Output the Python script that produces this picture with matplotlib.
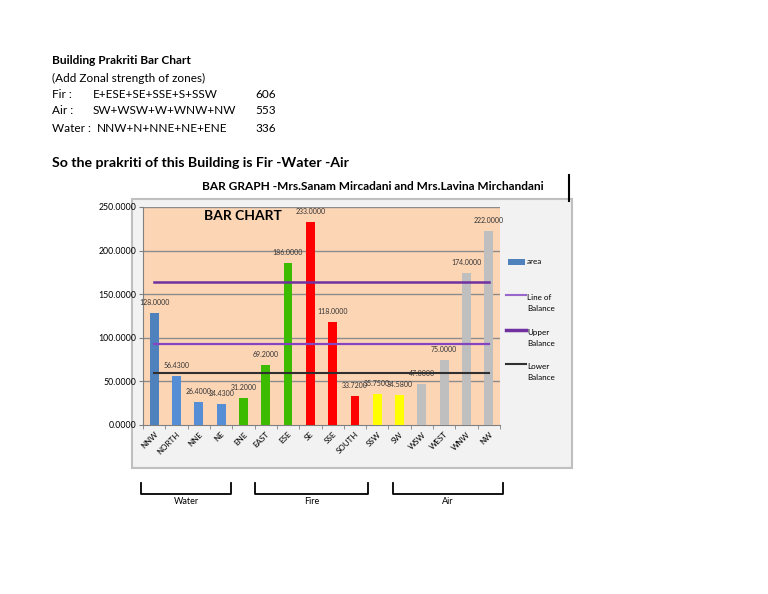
import matplotlib
matplotlib.use("Agg")
import matplotlib.pyplot as plt
from matplotlib.patches import Rectangle
from matplotlib.lines import Line2D

plt.rcParams['font.family'] = ['Lato', 'DejaVu Sans']

categories = ["NNW", "NORTH", "NNE", "NE", "ENE", "EAST", "ESE", "SE", "SSE",
              "SOUTH", "SSW", "SW", "WSW", "WEST", "WNW", "NW"]
area = [128.0, 56.43, 26.40, 24.43, 31.20, 69.20, 186.0, 233.0, 118.0,
        33.72, 35.75, 34.58, 47.0, 75.0, 174.0, 222.0]
bar_colors = ["#4F81BD", "#558ED5", "#558ED5", "#558ED5", "#3DBB00", "#3DBB00",
              "#3DBB00", "#FF0000", "#FF0000", "#FF0000", "#FFFF00", "#FFFF00",
              "#BFBFBF", "#BFBFBF", "#BFBFBF", "#BFBFBF"]
line_of_balance = 93.4
upper_balance = 164.0
lower_balance = 59.6
yticks = [0, 50, 100, 150, 200, 250]

W, H = 768, 594
fig = plt.figure(figsize=(W / 100, H / 100), dpi=100)
fig.patch.set_facecolor("white")

def fx(x):
    return x / W

def fy(y):
    return 1 - y / H

# header texts
fig.text(fx(52), fy(61), "Building Prakriti Bar Chart", fontsize=8.6, fontweight="bold", va="center")
fig.text(fx(52), fy(78), "(Add Zonal strength of zones)", fontsize=8.5, va="center")
rows = [("Fir :", "E+ESE+SE+SSE+S+SSW", "606", 94, 93),
        ("Air :", "SW+WSW+W+WNW+NW", "553", 111, 93),
        ("Water :", "NNW+N+NNE+NE+ENE", "336", 128, 97)]
for lab, expr, val, y, xe in rows:
    fig.text(fx(52), fy(y), lab, fontsize=8.5, va="center")
    fig.text(fx(xe), fy(y), expr, fontsize=8.5, va="center")
    fig.text(fx(255), fy(y), val, fontsize=8.5, va="center")
fig.text(fx(52), fy(163), "So the prakriti of this Building is Fir -Water -Air",
         fontsize=10.2, fontweight="bold", va="center")
fig.text(fx(202), fy(186), "BAR GRAPH -Mrs.Sanam Mircadani and Mrs.Lavina Mirchandani",
         fontsize=8.6, fontweight="bold", va="center")
fig.add_artist(Line2D([fx(569), fx(569)], [fy(175), fy(201)], color="black", lw=1.5))

# chart container
fig.add_artist(Rectangle((fx(132), fy(468)), fx(572) - fx(132), fy(199) - fy(468),
                         facecolor="#F2F2F2", edgecolor="#BFBFBF", lw=1.5, zorder=0))

ax = fig.add_axes([fx(143), fy(425), fx(500) - fx(143), fy(207) - fy(425)])
ax.set_facecolor("#FCD5B5")
x = list(range(len(categories)))
ax.bar(x, area, width=0.4, color=bar_colors, zorder=3)
ax.set_xlim(-0.5, len(categories) - 0.5)
ax.set_ylim(0, 250)
ax.set_yticks(yticks)
ax.set_yticklabels([f"{v:.4f}" for v in yticks], fontsize=6.3)
for v in yticks[1:]:
    ax.axhline(v, color="#8C8C8C", lw=1, zorder=1)
ax.set_xticks(x)
ax.set_xticklabels(categories, rotation=45, ha="right", rotation_mode="anchor", fontsize=5.8)
ax.tick_params(axis="x", length=0, pad=4)
ax.set_xticks([i + 0.5 for i in range(-1, len(categories))], minor=True)
ax.tick_params(axis="x", which="minor", length=3, color="#808080")
ax.tick_params(axis="y", length=3, color="#808080", pad=2)
for s in ["top", "right"]:
    ax.spines[s].set_visible(False)
ax.spines["left"].set_color("#808080")
ax.spines["bottom"].set_color("#808080")

for xi, v in zip(x, area):
    ax.annotate(f"{v:.4f}", (xi, v), xytext=(0, 5), textcoords="offset points",
                ha="center", va="bottom", fontsize=5, color="#333333", zorder=5)

ax.plot([0, 15], [upper_balance] * 2, color="#7030A0", lw=1.8, zorder=4)
ax.plot([0, 15], [line_of_balance] * 2, color="#8545C0", lw=1.6, zorder=4)
ax.plot([0, 15], [lower_balance] * 2, color="#303030", lw=1.5, zorder=4)

ax.text(0.17, 0.985, "BAR CHART", transform=ax.transAxes, fontsize=10, fontweight="bold",
        va="top", ha="left", zorder=6)

# legend (manual)
fig.add_artist(Rectangle((fx(508), fy(265)), fx(525) - fx(508), fy(259) - fy(265),
                         facecolor="#4F81BD", edgecolor="none"))
fig.text(fx(527), fy(262), "area", fontsize=5.8, va="center")
leg = [("#9966CC", 1.5, "Line of\nBalance", 295),
       ("#7030A0", 2.5, "Upper\nBalance", 330),
       ("#303030", 1.5, "Lower\nBalance", 364)]
for c, lw, lab, y in leg:
    fig.add_artist(Line2D([fx(506), fx(526)], [fy(y), fy(y)], color=c, lw=lw))
    fig.text(fx(527), fy(y - 1), lab, fontsize=5.8, va="top", ha="left", linespacing=1.6)

# brackets
brackets = [(141, 231, "Water"), (255, 368, "Fire"), (393, 503, "Air")]
for x0, x1, lab in brackets:
    fig.add_artist(Line2D([fx(x0), fx(x0), fx(x1), fx(x1)],
                          [fy(483), fy(494), fy(494), fy(483)], color="black", lw=1.3))
    fig.text(fx((x0 + x1) / 2), fy(502), lab, fontsize=6.5, ha="center", va="center")

fig.savefig("out.png", dpi=100)
